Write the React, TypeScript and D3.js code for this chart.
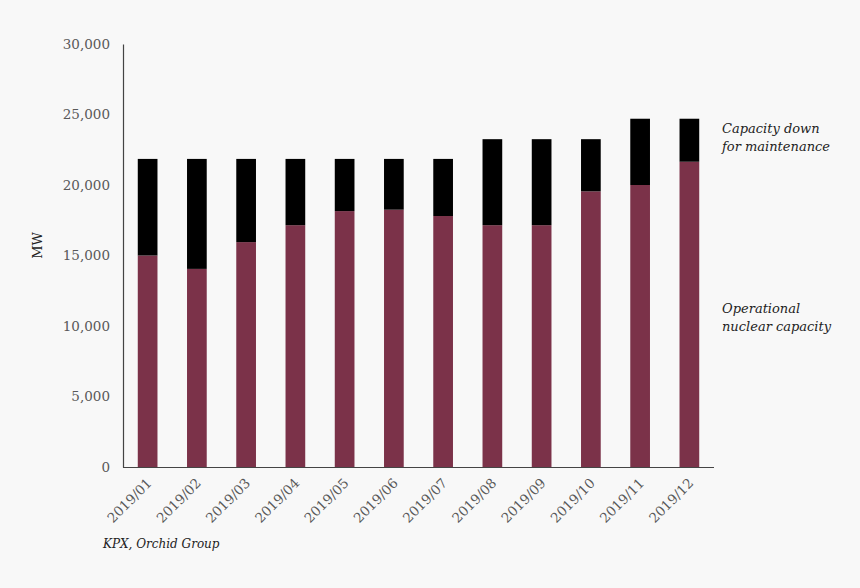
import { useEffect, useRef } from 'react'
import * as d3 from 'd3'

const months = ['2019/01', '2019/02', '2019/03', '2019/04', '2019/05', '2019/06', '2019/07', '2019/08', '2019/09', '2019/10', '2019/11', '2019/12']
const operational = [15000, 14050, 15950, 17150, 18150, 18250, 17800, 17150, 17150, 19550, 20000, 21650]
const maintenance = [6850, 7800, 5900, 4700, 3700, 3600, 4050, 6100, 6100, 3700, 4700, 3050]
const yTicks = [0, 5000, 10000, 15000, 20000, 25000, 30000]

const width = 860
const height = 588
const margin = { top: 44, right: 146, bottom: 121, left: 123 }
const font = '"DejaVu Serif", Georgia, serif'

export default function App() {
  const svgRef = useRef<SVGSVGElement>(null)

  useEffect(() => {
    document.body.style.margin = '0'
    document.body.style.background = '#f8f8f8'
    if (!svgRef.current) return

    const svg = d3.select(svgRef.current)
    svg.selectAll('*').remove()

    const innerWidth = width - margin.left - margin.right
    const innerHeight = height - margin.top - margin.bottom

    const g = svg.append('g').attr('transform', `translate(${margin.left},${margin.top})`)

    const x = d3.scaleBand().domain(months).range([0, innerWidth]).paddingInner(0.6).paddingOuter(0.3)
    const y = d3.scaleLinear().domain([0, 30000]).range([innerHeight, 0])

    const data = months.map((m, i) => ({ month: m, op: operational[i], down: maintenance[i] }))

    // stacked bars: operational at the bottom, maintenance on top
    g.selectAll('rect.op')
      .data(data)
      .join('rect')
      .attr('class', 'op')
      .attr('x', d => x(d.month)!)
      .attr('width', x.bandwidth())
      .attr('y', d => y(d.op))
      .attr('height', d => y(0) - y(d.op))
      .attr('fill', '#7b3249')

    g.selectAll('rect.down')
      .data(data)
      .join('rect')
      .attr('class', 'down')
      .attr('x', d => x(d.month)!)
      .attr('width', x.bandwidth())
      .attr('y', d => y(d.op + d.down))
      .attr('height', d => y(d.op) - y(d.op + d.down))
      .attr('fill', '#000000')

    // y axis
    g.append('g')
      .call(d3.axisLeft(y).tickValues(yTicks).tickSize(0).tickPadding(13).tickFormat(d3.format(',') as any))
      .call(a => a.select('.domain').attr('stroke', '#444').attr('stroke-width', 1.2))
      .call(a => a.selectAll('.tick text')
        .attr('fill', '#595959')
        .attr('font-family', font)
        .attr('font-size', '13.5px'))

    // x axis
    g.append('g')
      .attr('transform', `translate(0,${innerHeight})`)
      .call(d3.axisBottom(x).tickSize(0).tickPadding(0))
      .call(a => a.select('.domain').attr('stroke', '#444').attr('stroke-width', 1.2).attr('d', `M0,0.5H${innerWidth}`))
      .call(a => a.selectAll('.tick text')
        .attr('fill', '#595959')
        .attr('font-family', font)
        .attr('font-size', '13.5px')
        .attr('text-anchor', 'end')
        .attr('dy', '0')
        .attr('transform', 'translate(5,17) rotate(-45)'))

    // y label
    svg.append('text')
      .attr('transform', `translate(42,${margin.top + innerHeight / 2 - 10}) rotate(-90)`)
      .attr('text-anchor', 'middle')
      .attr('font-family', font)
      .attr('font-size', '13px')
      .attr('fill', '#222')
      .text('MW')

    // series labels
    const labels = [
      { lines: ['Capacity down', 'for maintenance'], y: 133 },
      { lines: ['Operational', 'nuclear capacity'], y: 313 }
    ]
    labels.forEach(l => {
      const t = svg.append('text')
        .attr('x', 722)
        .attr('y', l.y)
        .attr('font-family', font)
        .attr('font-style', 'italic')
        .attr('font-size', '13px')
        .attr('fill', '#222')
      l.lines.forEach((line, i) => {
        t.append('tspan').attr('x', 722).attr('dy', i === 0 ? 0 : 18).text(line)
      })
    })

    // source
    svg.append('text')
      .attr('x', 103)
      .attr('y', 548)
      .attr('font-family', font)
      .attr('font-style', 'italic')
      .attr('font-size', '12px')
      .attr('fill', '#222')
      .text('KPX, Orchid Group')
  }, [])

  return <svg ref={svgRef} width={width} height={height} style={{ display: 'block', background: '#f8f8f8' }} />
}
